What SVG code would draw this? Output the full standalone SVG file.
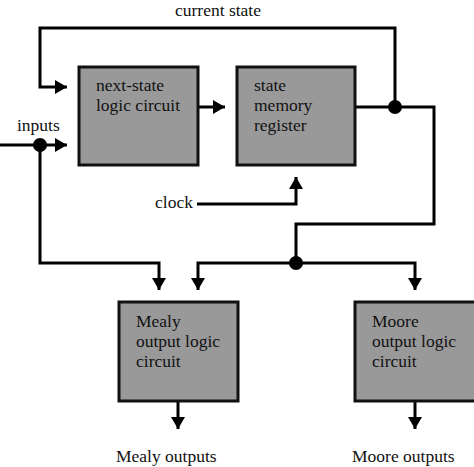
<svg xmlns="http://www.w3.org/2000/svg" width="474" height="467" viewBox="0 0 474 467">
<style>
.box{fill:#999999;stroke:#111111;stroke-width:3}
.t{font-family:"Liberation Serif","Times New Roman",serif;font-size:17.5px;fill:#111111}
.w{fill:none;stroke:#000;stroke-width:3}
.dot{fill:#000}
</style>
<defs>
<marker id="ah" markerUnits="userSpaceOnUse" markerWidth="13" markerHeight="14" refX="12" refY="7" orient="auto">
<path d="M0,0 L12,7 L0,14 Z" fill="#000"/>
</marker>
</defs>
<rect width="474" height="467" fill="#fff"/>
<g id="connectors">
<path class="w" d="M395,107 V28 H40 V87 H67" marker-end="url(#ah)"/>
<path class="w" d="M0,145 H67" marker-end="url(#ah)"/>
<path class="w" d="M198,107 H225" marker-end="url(#ah)"/>
<path class="w" d="M355,107 H434 V224 H296 V263"/>
<path class="w" d="M197,204 H296 V177" marker-end="url(#ah)"/>
<path class="w" d="M40,145 V263 H159 V290" marker-end="url(#ah)"/>
<path class="w" d="M296,263 H198 V290" marker-end="url(#ah)"/>
<path class="w" d="M296,263 H415 V290" marker-end="url(#ah)"/>
<path class="w" d="M178,401 V429" marker-end="url(#ah)"/>
<path class="w" d="M415,401 V429" marker-end="url(#ah)"/>
<circle class="dot" cx="40" cy="145" r="7"/>
<circle class="dot" cx="395" cy="107" r="7"/>
<circle class="dot" cx="296" cy="263" r="7"/>
</g>
<g id="next-state">
<rect class="box" x="79" y="67" width="119" height="98"/>
<text class="t" x="96" y="91">next-state</text>
<text class="t" x="96" y="111">logic circuit</text>
</g>
<g id="state-memory">
<rect class="box" x="237" y="67" width="118" height="98"/>
<text class="t" x="254" y="91">state</text>
<text class="t" x="254" y="111">memory</text>
<text class="t" x="254" y="131">register</text>
</g>
<g id="mealy">
<rect class="box" x="119" y="302" width="119" height="99"/>
<text class="t" x="136" y="327">Mealy</text>
<text class="t" x="136" y="347">output logic</text>
<text class="t" x="136" y="367">circuit</text>
</g>
<g id="moore">
<rect class="box" x="355" y="302" width="121" height="99"/>
<text class="t" x="372" y="327">Moore</text>
<text class="t" x="372" y="347">output logic</text>
<text class="t" x="372" y="367">circuit</text>
</g>
<g id="labels">
<text class="t" x="175" y="16">current state</text>
<text class="t" x="17" y="131">inputs</text>
<text class="t" x="155" y="208">clock</text>
<text class="t" x="116" y="462">Mealy outputs</text>
<text class="t" x="352" y="462">Moore outputs</text>
</g>
</svg>
